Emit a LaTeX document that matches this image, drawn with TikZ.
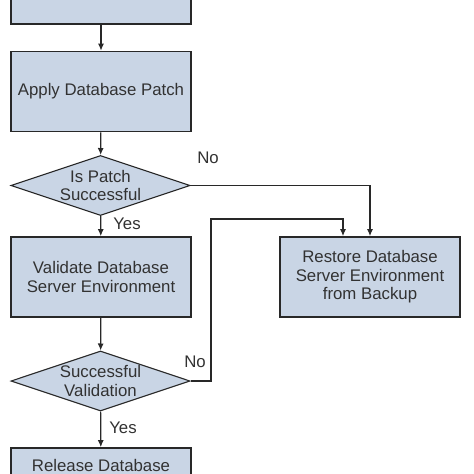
\documentclass[tikz,border=0pt]{standalone}
\usepackage{fontspec}
\setmainfont{Liberation Sans}
\usetikzlibrary{shapes.geometric,arrows.meta}
\definecolor{boxfill}{RGB}{201,213,229}
\definecolor{inkgray}{RGB}{40,40,40}
\definecolor{textgray}{RGB}{50,50,50}
\def\stepnode{\node[stepbox]}
\def\asknode{\node[askbox]}

\begin{document}
\begin{tikzpicture}[x=1pt,y=-1pt,
  stepbox/.style={rectangle,draw=inkgray,line width=1.6pt,fill=boxfill,
    minimum width=180pt,minimum height=80pt,align=center,inner sep=0pt},
  askbox/.style={diamond,draw=inkgray,line width=1.1pt,fill=boxfill,
    minimum width=179pt,minimum height=60pt,inner sep=0pt},
  flow/.style={draw=inkgray,line width=1.2pt,-{Latex[length=7pt,width=6pt]}},
  every node/.style={font=\fontsize{16.8}{18.5}\selectfont,text=textgray}]
\clip (0,0) rectangle (474,474);
\fill[white] (0,0) rectangle (474,474);
% boxes
\stepnode (prev) at (101,-16) {};
\stepnode (patch) at (101,91.5) {Apply Database Patch};
\asknode[label={[align=center]center:Is Patch\\Successful}] (patchok) at (100.5,185.5) {};
\stepnode (validate) at (101,277) {Validate Database\\Server Environment};
\stepnode (restore) at (370,277) {Restore Database\\Server Environment\\from Backup};
\asknode[label={[align=center]center:Successful\\Validation}] (validok) at (100.5,381) {};
\stepnode[label={[anchor=center,yshift=-18pt]north:Release Database}] (release) at (101,488) {};
% bends
\coordinate (nobend) at (370,185.5);
\coordinate (backlow) at (211,381);
\coordinate (backhigh) at (211,219);
\coordinate (backtop) at (343,219);
% connectors
\draw[flow] (prev) -- (patch);
\draw[flow] (patch) -- (patchok);
\draw[flow] (patchok) -- (validate);
\draw[flow] (patchok.east) -- (nobend) -- (restore.north);
\draw[flow] (validate) -- (validok);
\draw[flow] (validok.east) -- (backlow) -- (backhigh) -- (backtop) -- (backtop |- restore.north);
\draw[flow] (validok) -- (release);
% answers
\node (no1) at (208,158) {No};
\node (yes1) at (127,224) {Yes};
\node (no2) at (195,362) {No};
\node (yes2) at (123,428) {Yes};
\end{tikzpicture}
\end{document}
